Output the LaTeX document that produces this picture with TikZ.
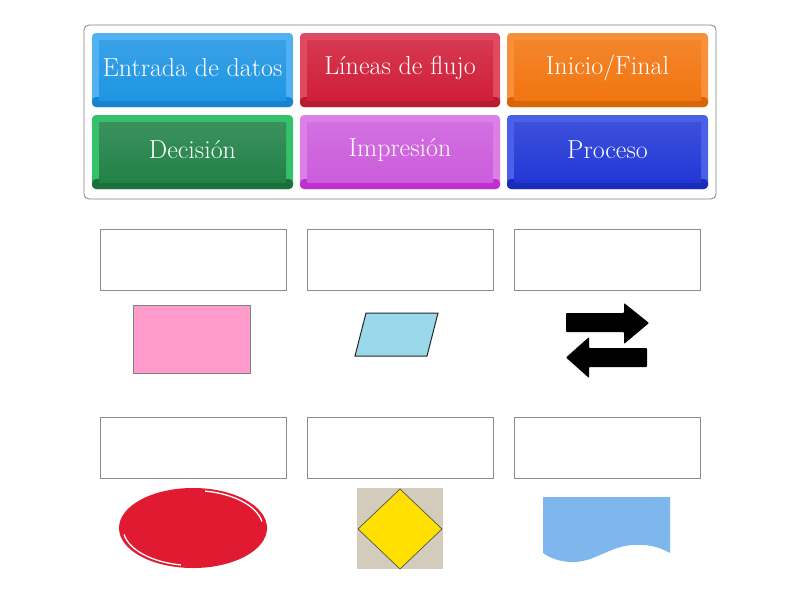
\documentclass[tikz,border=0pt]{standalone}
\usetikzlibrary{shapes.geometric}
\definecolor{bBlue}{HTML}{1E95E3}\definecolor{bBlueL}{HTML}{52B1F0}\definecolor{bBlueD}{HTML}{1585CF}
\definecolor{bRed}{HTML}{D01E38}\definecolor{bRedL}{HTML}{E04A60}\definecolor{bRedD}{HTML}{B81A30}
\definecolor{bOra}{HTML}{F27510}\definecolor{bOraL}{HTML}{F8903A}\definecolor{bOraD}{HTML}{D86608}
\definecolor{bGre}{HTML}{218247}\definecolor{bGreL}{HTML}{35C06A}\definecolor{bGreD}{HTML}{1C703C}
\definecolor{bMag}{HTML}{CC5CDC}\definecolor{bMagL}{HTML}{DC80E8}\definecolor{bMagD}{HTML}{C030D0}
\definecolor{bBlu2}{HTML}{2238D6}\definecolor{bBlu2L}{HTML}{4A60E8}\definecolor{bBlu2D}{HTML}{1A2CB8}
\definecolor{pinkR}{HTML}{FF9CCC}\definecolor{cyanP}{HTML}{9AD8EA}
\definecolor{redE}{HTML}{E01A30}\definecolor{beigeB}{HTML}{D3CBBC}\definecolor{yelD}{HTML}{FFE000}
\definecolor{docB}{HTML}{7EB6EE}
\tikzset{
  btntext/.style={text=white,font=\fontsize{26}{30}\selectfont},
  slot/.style={draw=black!45,line width=0.8pt,minimum width=186pt,minimum height=61pt,inner sep=0pt},
}
\newcommand{\mybtn}[7]{%
  \fill[#5,rounded corners=4pt] (#1,#2) rectangle (#3,#4);
  \fill[#7,rounded corners=4pt] (#1,{#4-10}) rectangle (#3,#4);
  \fill[top color=#6!88!white,bottom color=#6] ({#1+7},{#2+7}) rectangle ({#3-7},{#4-7});
}
\begin{document}
\begin{tikzpicture}[x=1pt,y=-1pt]
\useasboundingbox[fill=white] (0,0) rectangle (800,600);
\draw[black!50,line width=0.8pt,rounded corners=5pt] (84,25) rectangle (716,199);
\mybtn{92}{33}{293}{107}{bBlueL}{bBlue}{bBlueD}
\mybtn{300}{33}{500}{107}{bRedL}{bRed}{bRedD}
\mybtn{507}{33}{708}{107}{bOraL}{bOra}{bOraD}
\mybtn{92}{115}{293}{189}{bGreL}{bGre}{bGreD}
\mybtn{300}{115}{500}{189}{bMagL}{bMag}{bMagD}
\mybtn{507}{115}{708}{189}{bBlu2L}{bBlu2}{bBlu2D}
\node[btntext] (t1) at (192.5,68) {Entrada de datos};
\node[btntext] (t2) at (400,68) {Líneas de flujo};
\node[btntext] (t3) at (607.5,68) {Inicio/Final};
\node[btntext] (t4) at (192.5,150) {Decisión};
\node[btntext] (t5) at (400,150) {Impresión};
\node[btntext] (t6) at (607.5,150) {Proceso};
% slots
\node[slot] (s1) at (193,259.5) {};
\node[slot] (s2) at (400,259.5) {};
\node[slot] (s3) at (607,259.5) {};
\node[slot] (s4) at (193,447.5) {};
\node[slot] (s5) at (400,447.5) {};
\node[slot] (s6) at (607,447.5) {};
% pink rectangle
\filldraw[fill=pinkR,draw=black!50,line width=0.6pt] (133,305) rectangle (250,373);
% parallelogram
\filldraw[fill=cyanP,draw=black!85,line width=1pt] (366,313) -- (438,313) -- (427,356) -- (355,356) -- cycle;
% arrows
\fill[black,rounded corners=0.8pt] (566,313) -- (624,313) -- (624,303) -- (649,323) -- (624,344) -- (624,332) -- (566,332) -- cycle;
\fill[black,rounded corners=0.8pt] (647,348) -- (589,348) -- (589,337) -- (566,357.5) -- (589,378) -- (589,367) -- (647,367) -- cycle;
% ellipse
\fill[redE] (193,528) ellipse [x radius=74pt,y radius=40pt];
\draw[white,line width=1.3pt] (193,528) ++(80:70pt and 37.5pt) arc[start angle=80,end angle=10,x radius=70pt,y radius=37.5pt];
\draw[white,line width=1.3pt] (193,528) ++(260:70pt and 37.5pt) arc[start angle=260,end angle=190,x radius=70pt,y radius=37.5pt];
% diamond
\fill[beigeB] (357,488) rectangle (443,569);
\filldraw[fill=yelD,draw=black!60!yellow!60!black,line width=0.7pt] (400,489) -- (442,529) -- (400,569) -- (358,529) -- cycle;
% document shape
\fill[docB] (543,497) -- (670,497) -- (670,553) .. controls (658,546) and (645,544) .. (633,545) .. controls (610,546) and (595,562) .. (573,562) .. controls (560,562) and (550,558) .. (543,553) -- cycle;
\end{tikzpicture}
\end{document}
